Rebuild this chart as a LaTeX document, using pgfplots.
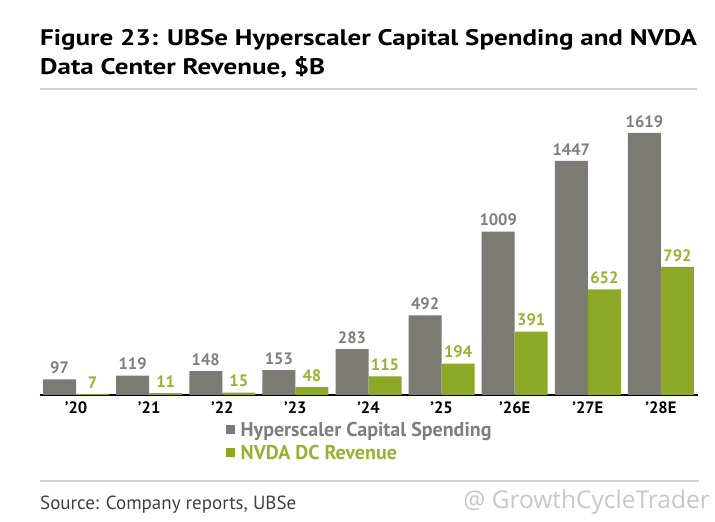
\documentclass[border=0pt]{standalone}
\usepackage{pgfplots}
\pgfplotsset{compat=1.18}
\usepackage{fontspec}
\setmainfont{PT Sans}
\newfontfamily\wmfont{Open Sans}
\definecolor{barGrey}{RGB}{125,122,116}
\definecolor{barGreen}{RGB}{140,168,38}
\definecolor{lblGrey}{RGB}{128,126,122}
\definecolor{lblGreen}{RGB}{150,178,50}
\definecolor{ruleGrey}{RGB}{212,212,212}
\begin{document}
\begin{tikzpicture}[x=1pt,y=1pt]
\path[use as bounding box] (0,0) rectangle (715,522);
% title
\node[anchor=base west,inner sep=0,font=\bfseries\fontsize{22.5}{26}\selectfont] at (40,476) {\scalebox{1.2}[1]{Figure 23: UBSe Hyperscaler Capital Spending and NVDA}};
\node[anchor=base west,inner sep=0,font=\bfseries\fontsize{22.5}{26}\selectfont] at (40,447) {\scalebox{1.2}[1]{Data Center Revenue, \$B}};
\draw[ruleGrey,line width=2pt] (40,433) -- (697,433);
\begin{axis}[
  at={(39.5pt,127pt)}, anchor=south west,
  scale only axis, width=658pt, height=270pt,
  xmin=-0.5, xmax=8.5, ymin=0, ymax=1668,
  ybar=0pt, bar width=33pt,
  axis y line=none,
  axis x line*=bottom,
  x axis line style={black,line width=1.6pt,-},
  xtick=data,
  xticklabels={'20,'21,'22,'23,'24,'25,'26E,'27E,'28E},
  major tick length=0pt,
  xticklabel style={font=\bfseries\fontsize{16.5}{18}\selectfont,text=black,yshift=-3pt},
  /pgf/number format/assume math mode=true,
  /pgf/number format/1000 sep={},
  nodes near coords,
  every node near coord/.append style={font=\bfseries\fontsize{16.5}{18}\selectfont,yshift=2pt},
  legend style={at={(0.2834,-0.092)},anchor=north west,draw=none,fill=none,
    inner sep=0pt,font=\bfseries\fontsize{20}{22}\selectfont,
    row sep=3pt,
    /tikz/every odd column/.append style={column sep=3.5pt}},
  legend cell align=left,
  legend image code/.code={\fill (0pt,-4.5pt) rectangle (9pt,4.5pt);},
]
\addplot[fill=barGrey,draw=none,every node near coord/.append style={text=lblGrey}] coordinates {
(0,97) (1,119) (2,148) (3,153) (4,283) (5,492) (6,1009) (7,1447) (8,1619)};
\addplot[fill=barGreen,draw=none,every node near coord/.append style={text=lblGreen}] coordinates {
(0,7) (1,11) (2,15) (3,48) (4,115) (5,194) (6,391) (7,652) (8,792)};
\legend{\textcolor{lblGrey}{Hyperscaler Capital Spending},\textcolor{lblGreen}{NVDA DC Revenue}}
\end{axis}
\draw[ruleGrey,line width=1.5pt] (40,41) -- (699,41);
\node[anchor=base west,inner sep=0,font=\fontsize{19}{22}\selectfont,text=black!75] at (40,12) {Source: Company reports, UBSe};
\node[anchor=base east,inner sep=0,font=\wmfont\fontsize{24.5}{30}\selectfont,text=black!22] at (710,13) {@ GrowthCycleTrader};
\end{tikzpicture}
\end{document}
